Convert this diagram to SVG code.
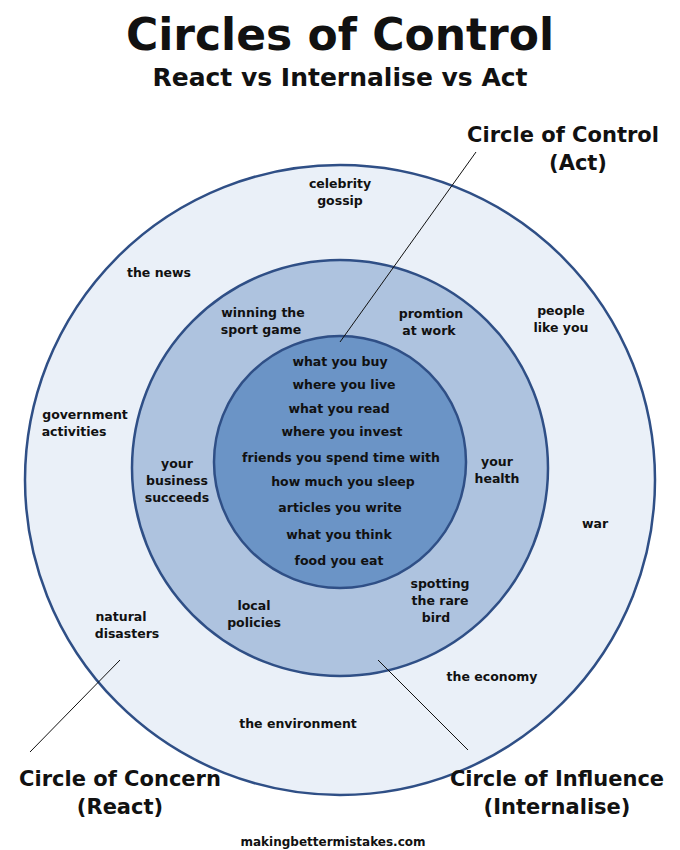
<svg xmlns="http://www.w3.org/2000/svg" width="680" height="850" viewBox="0 0 680 850">
<style>
text{font-family:"DejaVu Sans",Verdana,sans-serif;font-weight:bold;fill:#111;text-anchor:middle}
.s{font-size:12.5px}
.l{font-size:21px}
.ring{stroke:#2f4f86;stroke-width:2.5}
.c{stroke:#111;stroke-width:1}
</style>
<rect width="680" height="850" fill="#fff"/>
<text x="340" y="50" style="font-size:44px">Circles of Control</text>
<text x="340" y="86" style="font-size:25px">React vs Internalise vs Act</text>
<g id="concern"><circle class="ring" cx="340" cy="480" r="315" fill="#eaf0f8"/></g>
<g id="influence"><circle class="ring" cx="340" cy="468" r="208" fill="#aec3df"/></g>
<g id="control"><circle class="ring" cx="340" cy="462" r="126" fill="#6b94c6"/></g>
<g id="connectors">
<line class="c" x1="340" y1="342" x2="476" y2="152"/>
<line class="c" x1="30" y1="752" x2="120" y2="660"/>
<line class="c" x1="378" y1="660" x2="468" y2="750"/>
</g>
<g id="labels">
<text class="l" x="563" y="142">Circle of Control</text>
<text class="l" x="578" y="170">(Act)</text>
<text class="l" x="120" y="786">Circle of Concern</text>
<text class="l" x="120" y="814">(React)</text>
<text class="l" x="557" y="786">Circle of Influence</text>
<text class="l" x="557" y="814">(Internalise)</text>
<text x="333" y="846" style="font-size:12px">makingbettermistakes.com</text>
</g>
<g id="outer-items" class="s">
<text class="s" x="340" y="188">celebrity</text><text class="s" x="340" y="205">gossip</text>
<text class="s" x="159" y="277">the news</text>
<text class="s" x="561" y="315">people</text><text class="s" x="561" y="332">like you</text>
<text class="s" x="85" y="419">government</text><text class="s" x="74" y="436">activities</text>
<text class="s" x="595" y="528">war</text>
<text class="s" x="121" y="621">natural</text><text class="s" x="127" y="638">disasters</text>
<text class="s" x="492" y="681">the economy</text>
<text class="s" x="298" y="728">the environment</text>
</g>
<g id="middle-items">
<text class="s" x="263" y="317">winning the</text><text class="s" x="261" y="334">sport game</text>
<text class="s" x="431" y="318">promtion</text><text class="s" x="429" y="335">at work</text>
<text class="s" x="177" y="468">your</text><text class="s" x="177" y="485">business</text><text class="s" x="177" y="502">succeeds</text>
<text class="s" x="497" y="466">your</text><text class="s" x="497" y="483">health</text>
<text class="s" x="440" y="588">spotting</text><text class="s" x="440" y="605">the rare</text><text class="s" x="436" y="622">bird</text>
<text class="s" x="254" y="610">local</text><text class="s" x="254" y="627">policies</text>
</g>
<g id="inner-items">
<text class="s" x="340" y="366">what you buy</text>
<text class="s" x="344" y="389">where you live</text>
<text class="s" x="339" y="413">what you read</text>
<text class="s" x="342" y="436">where you invest</text>
<text class="s" x="341" y="462">friends you spend time with</text>
<text class="s" x="343" y="486">how much you sleep</text>
<text class="s" x="340" y="512">articles you write</text>
<text class="s" x="339" y="539">what you think</text>
<text class="s" x="339" y="565">food you eat</text>
</g>
</svg>
